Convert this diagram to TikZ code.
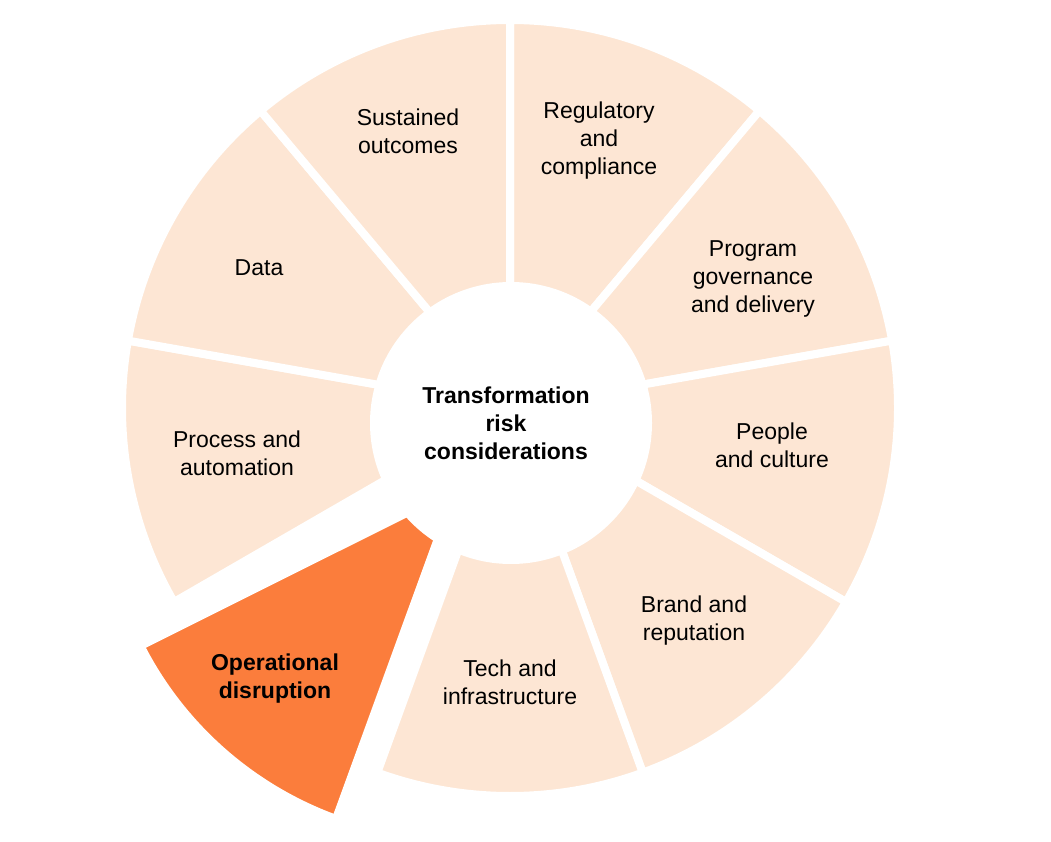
\documentclass[tikz,border=0pt]{standalone}
\usepackage{fontspec}
\setmainfont{Liberation Sans}
\usetikzlibrary{calc}
\definecolor{peach}{HTML}{FDE6D4}
\definecolor{hot}{HTML}{FB7D3C}
\begin{document}
\begin{tikzpicture}[x=1pt,y=1pt,
  seg/.style={fill=peach,draw=white,line width=8pt,line join=miter},
  lab/.style={align=center,font=\fontsize{23}{28}\selectfont,text=black}]
\useasboundingbox (0,0) rectangle (1051,841);
\fill[white] (0,0) rectangle (1051,841);
\coordinate (c) at (510,433);
\coordinate (ci) at (511,418);
\foreach \a in {90,50,10,-30,-70,-150,170,130}{
  \path[seg] (c) -- ($(c)+(\a:388)$) arc[start angle=\a,end angle=\a-40,radius=388] -- cycle;
}
\coordinate (c2) at ($(ci)+(-130:85)$);
\path[seg,fill=hot] (c2) -- ($(c2)+(-110:352)$) arc[start angle=-110,end angle=-153,radius=356] -- cycle;
\fill[white] (ci) circle (141);
\node[lab] (s) at (408,710) {Sustained\\outcomes};
\node[lab] (r) at (599,700) {Regulatory\\and\\compliance};
\node[lab] (p) at (753,562) {Program\\governance\\and delivery};
\node[lab] (pc) at (772,396) {People\\and culture};
\node[lab] (b) at (694,220) {Brand and\\reputation};
\node[lab] (t) at (510,159) {Tech and\\infrastructure};
\node[lab,font=\fontsize{23}{28}\selectfont\bfseries] (o) at (275,162) {Operational\\disruption};
\node[lab] (pa) at (237,388) {Process and\\automation};
\node[lab] (d) at (259,573) {Data};
\node[lab,font=\fontsize{23}{28}\selectfont\bfseries] (ctr) at (506,418) {Transformation\\risk\\considerations};
\end{tikzpicture}
\end{document}
